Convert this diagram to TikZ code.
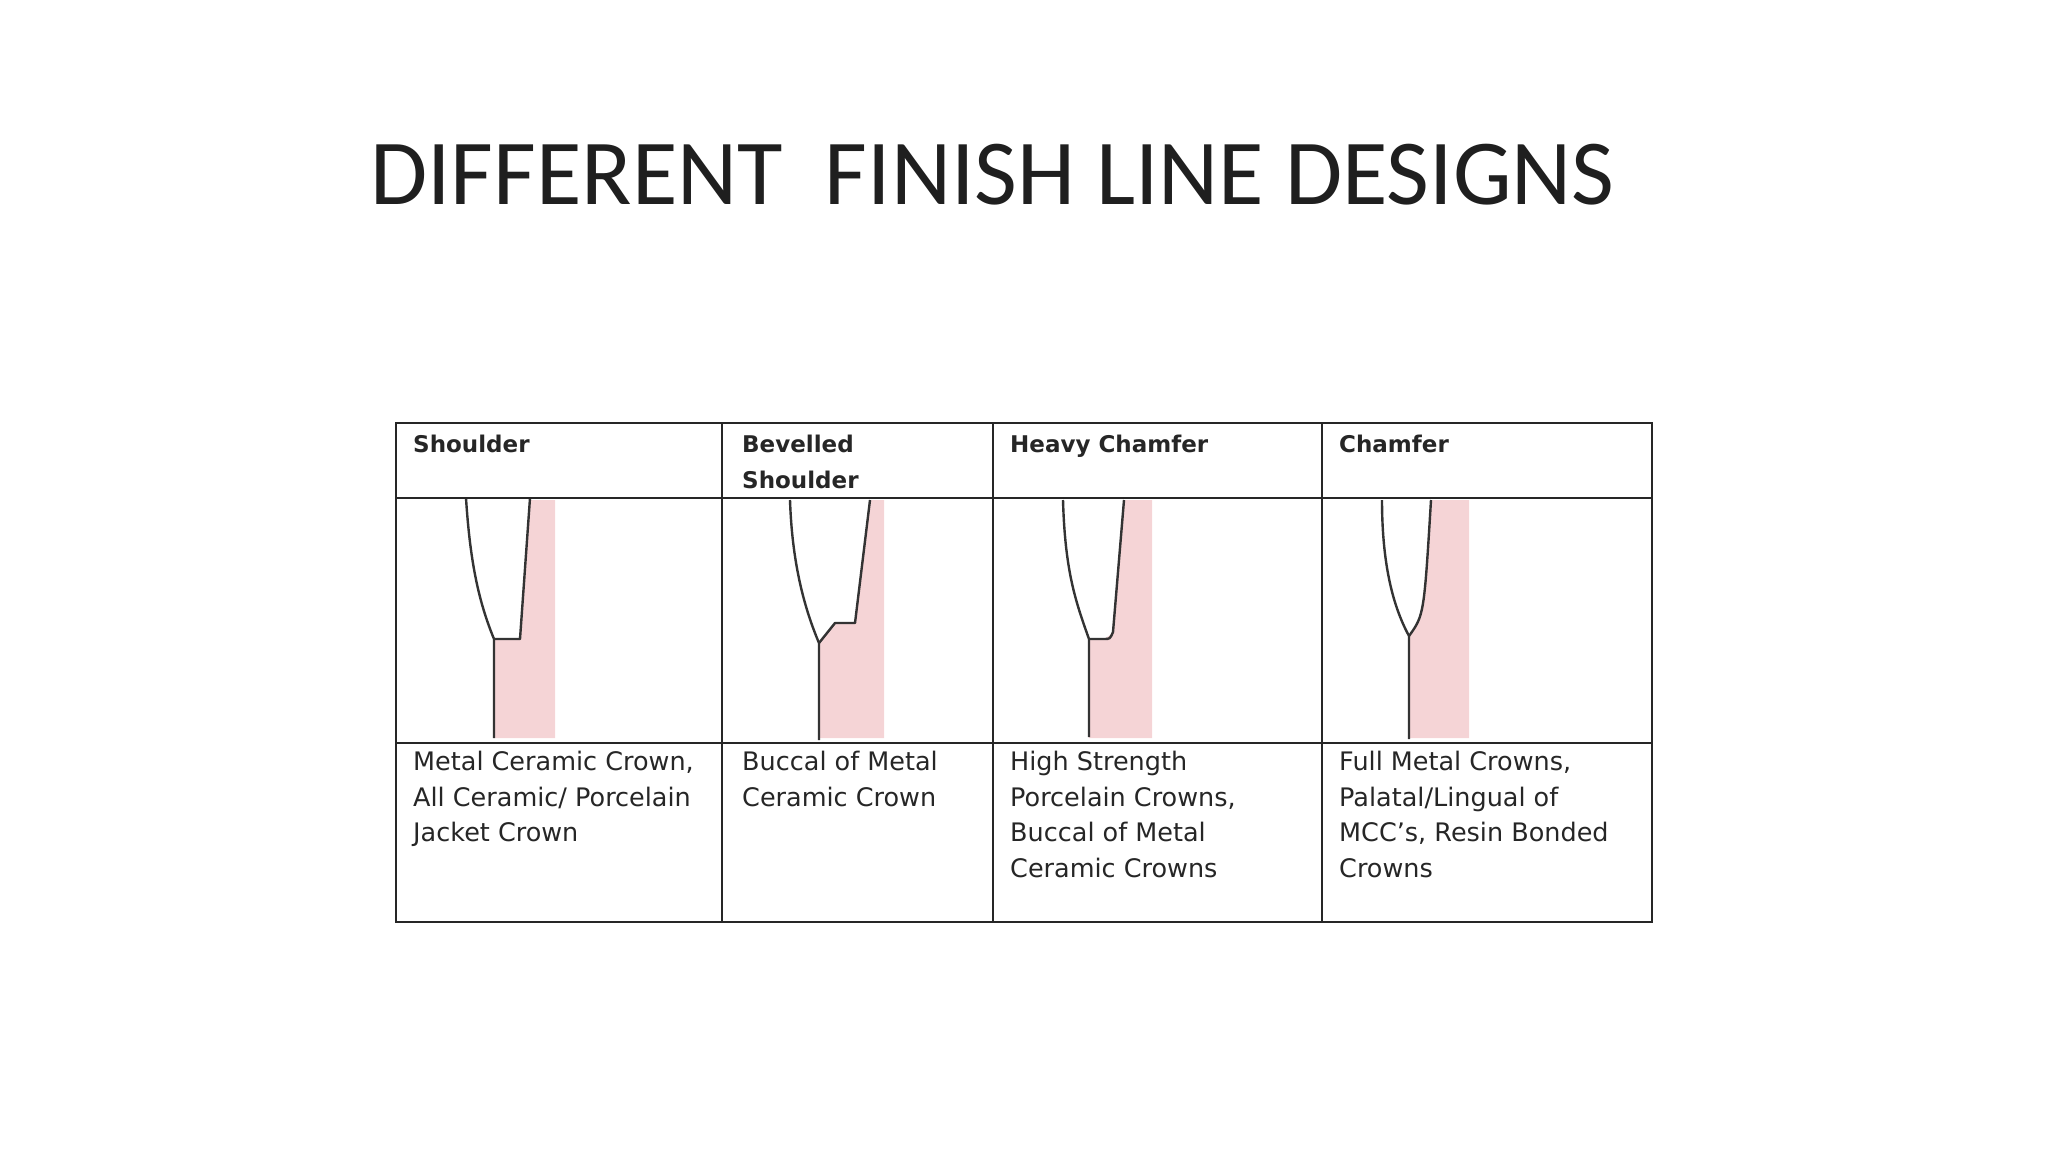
\documentclass[tikz,border=0pt]{standalone}
\usepackage{fontspec}
\setmainfont{DejaVu Sans}
\newfontfamily\titlefont{Carlito}
\definecolor{gum}{RGB}{245,212,214}
\begin{document}
\begin{tikzpicture}[x=1pt,y=-1pt,
  cell/.style={anchor=north west,align=left,inner sep=0pt,font=\fontsize{25.5}{35.5}\selectfont,text=black!85},
  head/.style={anchor=north west,align=left,inner sep=0pt,font=\fontsize{23}{35.5}\selectfont\bfseries,text=black!85},
  tline/.style={line width=2pt,black!85},
  tooth/.style={line width=2.4pt,black!80,line join=round}]
\useasboundingbox (0,0) rectangle (2048,1152);
\node[anchor=base west,inner sep=0pt,font=\titlefont\fontsize{93}{110}\selectfont,text=black!88] (title) at (370,204) {DIFFERENT\ \ FINISH LINE DESIGNS};
% pink
\fill[gum] (494,738) -- (494,639) -- (520,639) -- (530,500) -- (555,500) -- (555,738) -- cycle;
\fill[gum] (819,738) -- (819,643) -- (835,623) -- (855,623) -- (870,500) -- (884,500) -- (884,738) -- cycle;
\fill[gum] (1089,738) -- (1089,639) -- (1104,639) -- (1113,633) -- (1124,500) -- (1152,500) -- (1152,738) -- cycle;
\fill[gum] (1409,738) -- (1409,636) .. controls (1424,615) .. (1431,500) -- (1469,500) -- (1469,738) -- cycle;
% teeth
\draw[tooth] (466,498) .. controls (470,560) and (478,600) .. (494,639) -- (494,738);
\draw[tooth] (494,639) -- (520,639) -- (530,498);
\draw[tooth] (790,500) .. controls (792,560) and (803,605) .. (819,643) -- (819,740);
\draw[tooth] (819,643) -- (835,623) -- (855,623) -- (870,500);
\draw[tooth] (1063,500) .. controls (1065,570) and (1075,600) .. (1089,639) -- (1089,737);
\draw[tooth] (1089,639) -- (1104,639) .. controls (1110,639) .. (1113,632) -- (1124,500);
\draw[tooth] (1382,500) .. controls (1382,570) and (1395,610) .. (1409,636) -- (1409,739);
\draw[tooth] (1409,636) .. controls (1424,615) .. (1431,500);
% table
\coordinate (tl) at (396,423); \coordinate (br) at (1652,922);
\draw[tline] (tl) rectangle (br);
\draw[tline] (396,498) -- (1652,498);
\draw[tline] (396,743) -- (1652,743);
\foreach \x in {722,993,1322} \draw[tline] (\x,423) -- (\x,922);
% headers
\node[head] (h1) at (413,435) {Shoulder};
\node[head] (h2) at (742,435) {Bevelled\\Shoulder};
\node[head] (h3) at (1010,435) {Heavy Chamfer};
\node[head] (h4) at (1339,435) {Chamfer};
% body
\node[cell] (b1) at (413,751) {Metal Ceramic Crown,\\All Ceramic/ Porcelain\\Jacket Crown};
\node[cell] (b2) at (742,751) {Buccal of Metal\\Ceramic Crown};
\node[cell] (b3) at (1010,751) {High Strength\\Porcelain Crowns,\\Buccal of Metal\\Ceramic Crowns};
\node[cell] (b4) at (1339,751) {Full Metal Crowns,\\Palatal/Lingual of\\MCC’s, Resin Bonded\\Crowns};
\end{tikzpicture}
\end{document}
